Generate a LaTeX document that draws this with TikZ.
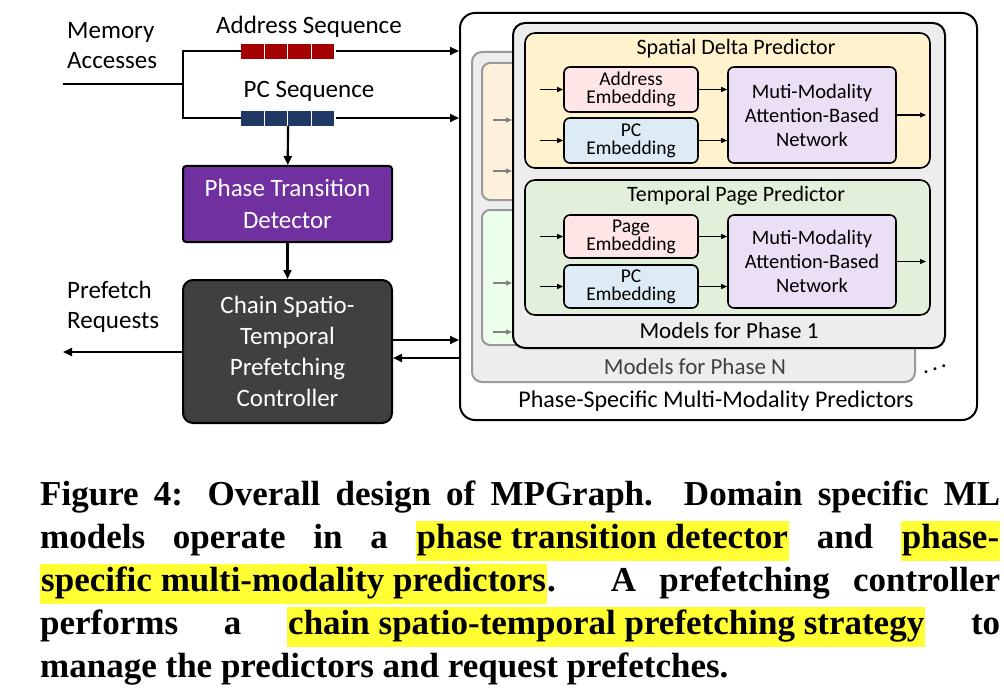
\documentclass[tikz,border=0pt]{standalone}
\usepackage{fontspec}
\usepackage{graphicx}
\setmainfont{Carlito}
\newfontfamily\capfont{Liberation Serif}
\usetikzlibrary{arrows.meta}
\definecolor{hl}{HTML}{FFFF33}
\definecolor{ptdc}{HTML}{7030A0}
\definecolor{navy}{HTML}{203864}
\definecolor{dred}{HTML}{A50000}
\begin{document}
\begin{tikzpicture}[x=1pt,y=-1pt,
  ar/.style={-{Triangle[length=9pt,width=8pt]},line width=2.2pt},
  sar/.style={-{Triangle[length=6pt,width=5pt]},line width=1.3pt},
  gar/.style={-{Triangle[length=6pt,width=5pt]},line width=1.3pt,draw=gray},
  blk/.style={draw=black,line width=1.6pt,rounded corners=6pt},
  emb/.style={blk,minimum width=134pt,align=center,font=\fontsize{19.5}{19}\selectfont,inner sep=0pt},
  lbl/.style={font=\fontsize{25}{30}\selectfont,align=left},
  captxt/.style={font=\capfont\bfseries\fontsize{35}{38}\selectfont,anchor=west,inner sep=0pt}]
\useasboundingbox (0,0) rectangle (1004,698);
% outer
\draw[line width=2pt,rounded corners=15pt,fill=white] (460,13) rectangle (977,420);
\node[font=\fontsize{24}{26}\selectfont] (psmp) at (716,401) {Phase-Specific Multi-Modality Predictors};
% phase N
\draw[draw=gray!80,line width=2pt,rounded corners=10pt,fill=black!7] (472,52) rectangle (915,382);
\draw[draw=gray!80,line width=2pt,rounded corners=8pt,fill=yellow!20!orange!12] (482,63) rectangle (540,200);
\draw[draw=gray!80,line width=2pt,rounded corners=8pt,fill=green!8] (482,210) rectangle (540,345);
\coordinate (g1) at (493,120); \coordinate (g1e) at (512,120);
\coordinate (g2) at (493,171); \coordinate (g2e) at (512,171);
\coordinate (g3) at (493,283); \coordinate (g3e) at (512,283);
\coordinate (g4) at (493,332); \coordinate (g4e) at (512,332);
\foreach \a in {1,2,3,4} \draw[gar] (g\a) -- (g\a e);
\node[font=\fontsize{23}{26}\selectfont,text=black!75] (mpn) at (695,367) {Models for Phase N};
\node[font=\fontsize{24}{26}\selectfont] (dots) at (935,366) {\reflectbox{$\ddots$}};
% phase 1
\draw[line width=2pt,rounded corners=12pt,fill=black!7] (513,23) rectangle (945,348);
\node[font=\fontsize{23}{26}\selectfont] (mp1) at (729,331) {Models for Phase 1};
\definecolor{yel}{HTML}{FFF2CC}\definecolor{grn}{HTML}{E2EFDA}
\definecolor{pnk}{HTML}{FFE5E5}\definecolor{blu}{HTML}{DDEBF7}\definecolor{lav}{HTML}{EADFF5}
\draw[blk,rounded corners=10pt,fill=yel] (525,33) rectangle (930,168);
\node[font=\fontsize{22}{24}\selectfont] (sdp) at (736,49) {Spatial Delta Predictor};
\draw[blk,rounded corners=10pt,fill=grn] (525,180) rectangle (930,315);
\node[font=\fontsize{22}{24}\selectfont] (tpp) at (736,196) {Temporal Page Predictor};
% spatial row
\node[emb,fill=pnk,minimum height=45pt] (ae) at (631,89.5) {Address\\[-1pt]Embedding};
\node[emb,fill=blu,minimum height=45pt] (pe1) at (631,140.5) {PC\\[-1pt]Embedding};
\node[emb,fill=lav,minimum width=168pt,minimum height=96pt,font=\fontsize{20.5}{24}\selectfont] (n1) at (812,115) {Muti-Modality\\Attention-Based\\Network};
\coordinate (i1) at (540,89.5); \coordinate (i2) at (540,140.5); \coordinate (o1) at (926,115);
\draw[sar] (i1) -- (ae); \draw[sar] (i2) -- (pe1);
\draw[sar] (ae) -- (ae-|n1.west); \draw[sar] (pe1) -- (pe1-|n1.west); \draw[sar] (n1) -- (o1);
% temporal row
\node[emb,fill=pnk,minimum height=43pt] (pg) at (631,236.5) {Page\\[-1pt]Embedding};
\node[emb,fill=blu,minimum height=43pt] (pe2) at (631,286.5) {PC\\[-1pt]Embedding};
\node[emb,fill=lav,minimum width=168pt,minimum height=93pt,font=\fontsize{20.5}{24}\selectfont] (n2) at (812,261.5) {Muti-Modality\\Attention-Based\\Network};
\coordinate (i3) at (540,236.5); \coordinate (i4) at (540,286.5); \coordinate (o2) at (926,261.5);
\draw[sar] (i3) -- (pg); \draw[sar] (i4) -- (pe2);
\draw[sar] (pg) -- (pg-|n2.west); \draw[sar] (pe2) -- (pe2-|n2.west); \draw[sar] (n2) -- (o2);
% left side
\node[lbl,anchor=north west,inner sep=0pt] (mem) at (67,22) {Memory\\Accesses};
\coordinate (m0) at (63,84); \coordinate (mj) at (183,84);
\draw[line width=2.2pt] (m0) -- (mj);
\coordinate (ja) at (183,51); \coordinate (jp) at (183,118);
\coordinate (as) at (241,51); \coordinate (ps) at (241,118);
\draw[line width=2.2pt] (as) -- (ja) -- (jp) -- (ps);
\foreach \i in {0,1,2,3} {
  \fill[fill=dred] (241+\i*23.6,44) rectangle ++(22.6,15);
  \fill[fill=navy] (241+\i*23.6,111) rectangle ++(22.6,15);
}
\node[lbl] (asq) at (309,27) {Address Sequence};
\node[lbl] (psq) at (309,91) {PC Sequence};
\coordinate (ae0) at (336,51); \coordinate (ae1) at (459,51);
\coordinate (pe0) at (336,118); \coordinate (pe1b) at (459,118);
\draw[ar] (ae0) -- (ae1); \draw[ar] (pe0) -- (pe1b);
\node[draw,line width=2pt,rounded corners=3pt,fill=ptdc,text=white,minimum width=209pt,minimum height=76pt,font=\fontsize{25}{32}\selectfont,align=center,inner sep=0pt] (ptd) at (287.5,204) {Phase Transition\\Detector};
\coordinate (pd) at (288,126);
\draw[ar] (pd) -- (ptd);
\node[draw,line width=2pt,rounded corners=10pt,fill=black!75,text=white,minimum width=209pt,minimum height=143pt,font=\fontsize{25}{31}\selectfont,align=center,inner sep=0pt] (ctl) at (287.5,351.5) {Chain Spatio-\\Temporal\\Prefetching\\Controller};
\draw[ar] (ptd) -- (ctl);
\node[lbl,anchor=north west,inner sep=0pt] (pfr) at (67,281) {Prefetch\\Requests};
\coordinate (pr) at (63,352);
\draw[ar] (ctl.west|-pr) -- (pr);
\coordinate (c1) at (459,340); \coordinate (c2) at (459,358);
\draw[ar] (ctl.east|-c1) -- (c1);
\draw[ar] (c2) -- (ctl.east|-c2);
% caption
\def\hb#1{{\setlength{\fboxsep}{1pt}\colorbox{hl}{\strut #1}}}
\node[captxt] (l1) at (40,497) {\makebox[960pt][s]{Figure 4: Overall design of MPGraph. Domain specific ML}};
\node[captxt] (l2) at (40,541) {\makebox[960pt][s]{models operate in a \hb{phase transition detector} and \hb{phase-}}};
\node[captxt] (l3) at (40,584) {\makebox[960pt][s]{\hb{specific multi-modality predictors}. A prefetching controller}};
\node[captxt] (l4) at (40,627) {\makebox[960pt][s]{performs a \hb{chain spatio-temporal prefetching strategy} to}};
\node[captxt] (l5) at (40,669) {manage the predictors and request prefetches.};
\end{tikzpicture}
\end{document}
